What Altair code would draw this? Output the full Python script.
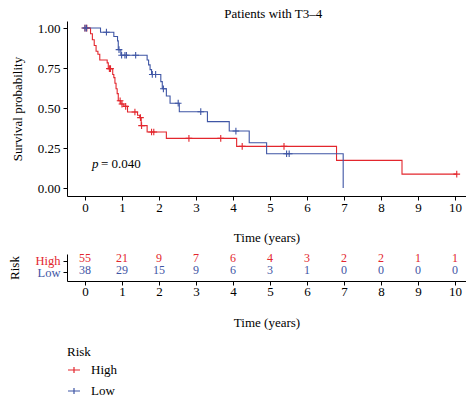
import altair as alt
import pandas as pd

SERIF = "Liberation Serif"

title_text = "Patients with T3\u20134"
groups = ["High", "Low"]
group_rows = [2, 1]
colors = ["#E3262D", "#3F56A5"]

# Kaplan-Meier step points (time in years, survival probability)
high_time = [0, 0.15, 0.20, 0.25, 0.30, 0.35, 0.40, 0.60, 0.63, 0.75, 0.78, 0.81,
             0.84, 0.87, 0.90, 0.97, 1.05, 1.15, 1.42, 1.48, 1.52, 1.68, 2.20,
             4.10, 6.80, 8.57, 10.05]
high_surv = [1.0, 0.964, 0.927, 0.891, 0.855, 0.836, 0.80, 0.782, 0.746, 0.71,
             0.69, 0.655, 0.62, 0.59, 0.545, 0.525, 0.51, 0.475, 0.455, 0.44,
             0.39, 0.35, 0.31, 0.26, 0.173, 0.087, 0.087]
low_time = [0, 0.42, 0.78, 0.88, 0.90, 0.97, 1.68, 1.72, 1.76, 1.80, 2.05, 2.09,
            2.20, 2.30, 2.55, 3.31, 3.90, 4.44, 4.91, 6.98]
low_surv = [1.0, 0.974, 0.947, 0.92, 0.865, 0.83, 0.80, 0.77, 0.74, 0.71, 0.665,
            0.62, 0.575, 0.53, 0.477, 0.415, 0.356, 0.283, 0.214, 0.0]

# censoring times
high_censor = [0.0, 0.05, 0.66, 0.69, 0.95, 1.0, 1.1, 1.35, 1.5, 1.53, 1.8, 1.86,
               2.81, 3.67, 4.25, 5.38, 10.05]
low_censor = [0.0, 0.04, 0.58, 0.92, 0.99, 1.08, 1.12, 1.37, 1.82, 1.91, 2.12,
              2.52, 3.13, 4.08, 5.45, 5.52]

# number at risk
risk_times = list(range(11))
high_risk = [55, 21, 9, 7, 6, 4, 3, 2, 2, 1, 1]
low_risk = [38, 29, 15, 9, 6, 3, 1, 0, 0, 0, 0]

p_time = [0.19]
p_surv = [0.15]
p_symbol = "p"
p_value = "= 0.040"

x_domain = [-0.486, 10.3]
y_domain = [-0.05, 1.044]
row_domain = [0.182, 2.636]


def surv_at(times, survs, t):
    s = survs[0]
    for ti, si in zip(times, survs):
        if ti <= t:
            s = si
    return s


curve_rows = []
for g, ts, ss in [("High", high_time, high_surv), ("Low", low_time, low_surv)]:
    for i, (t, s) in enumerate(zip(ts, ss)):
        curve_rows.append({"Risk": g, "time": t, "surv": s, "idx": i})
curve_df = pd.DataFrame(curve_rows)

cens_rows = []
for g, cs, ts, ss in [("High", high_censor, high_time, high_surv),
                      ("Low", low_censor, low_time, low_surv)]:
    for t in cs:
        cens_rows.append({"Risk": g, "time": t, "surv": surv_at(ts, ss, t)})
cens_df = pd.DataFrame(cens_rows)

risk_rows = []
for g, r, ns in [("High", group_rows[0], high_risk), ("Low", group_rows[1], low_risk)]:
    for t, n in zip(risk_times, ns):
        risk_rows.append({"Risk": g, "row": r, "time": t, "n": n})
risk_df = pd.DataFrame(risk_rows)

p_df = pd.DataFrame({"time": p_time, "surv": p_surv, "sym": [p_symbol], "val": [p_value]})

legend = alt.Legend(
    orient="none", legendX=0, legendY=325, direction="vertical",
    title="Risk", titleFont=SERIF, titleFontSize=13, titleFontWeight="normal",
    titleColor="black", titlePadding=4,
    labelFont=SERIF, labelFontSize=13, labelColor="black", labelOffset=10,
    symbolType="M-1,0L1,0M0,-0.5L0,0.5", symbolSize=144, symbolStrokeWidth=1.2,
    rowPadding=7, padding=0,
)
color = alt.Color("Risk:N", scale=alt.Scale(domain=groups, range=colors), legend=legend)

x_main = alt.X("time:Q", scale=alt.Scale(domain=x_domain, nice=False, zero=False),
               axis=alt.Axis(values=risk_times, title="Time (years)", labelPadding=1,
                             titleY=41, titleBaseline="middle", titleFontWeight="normal"))
y_main = alt.Y("surv:Q", scale=alt.Scale(domain=y_domain, nice=False, zero=False),
               axis=alt.Axis(values=[0, 0.25, 0.5, 0.75, 1.0], format=".2f",
                             title="Survival probability", labelPadding=3,
                             titleX=-50, titleBaseline="middle", titleFontWeight="normal"))

lines = alt.Chart(curve_df).mark_line(interpolate="step-after", strokeWidth=1.1).encode(
    x=x_main, y=y_main, color=color, order="idx:Q")
cens = alt.Chart(cens_df).mark_point(
    shape="M-1,0L1,0M0,-1L0,1", filled=False, size=45, strokeWidth=1.1, opacity=1
).encode(x=x_main, y=y_main, color=color)
p1 = alt.Chart(p_df).mark_text(font=SERIF, fontSize=13, fontStyle="italic", align="left",
                               baseline="middle", color="black").encode(
    x=x_main, y=y_main, text="sym:N")
p2 = alt.Chart(p_df).mark_text(font=SERIF, fontSize=13, align="left", dx=9,
                               baseline="middle", color="black").encode(
    x=x_main, y=y_main, text="val:N")

main = alt.layer(lines, cens, p1, p2).properties(width=399, height=175)

label_expr = "datum.value == %d ? '%s' : '%s'" % (group_rows[0], groups[0], groups[1])
label_color = "datum.value == %d ? '%s' : '%s'" % (group_rows[0], colors[0], colors[1])

x_risk = alt.X("time:Q", scale=alt.Scale(domain=x_domain, nice=False, zero=False),
               axis=alt.Axis(values=risk_times, title="Time (years)", labelPadding=0,
                             titleY=41, titleBaseline="middle", titleFontWeight="normal"))
y_risk = alt.Y("row:Q", scale=alt.Scale(domain=row_domain, nice=False, zero=False),
               axis=alt.Axis(title="Risk", values=group_rows, labelExpr=label_expr,
                             labelPadding=3, titleX=-52.5, labelFontSize=12.5,
                             titleBaseline="middle", titleFontWeight="normal",
                             labelColor={"expr": label_color}))
risk_layers = []
for g, c in zip(groups, colors):
    risk_layers.append(
        alt.Chart(risk_df).transform_filter(alt.datum.Risk == g).mark_text(
            font=SERIF, fontSize=12, color=c, baseline="middle", align="center", dy=-2.5
        ).encode(x=x_risk, y=y_risk, text="n:Q")
    )
risk = alt.layer(*risk_layers).properties(width=399, height=27)

chart = alt.vconcat(main, risk, spacing=58, bounds="flush").properties(
    title=alt.TitleParams(text=title_text, font=SERIF, fontSize=13, fontWeight="normal",
                          color="black", anchor="middle", offset=0, dx=36),
    padding=0,
).configure_view(stroke=None).configure_axis(
    grid=False, domainColor="black", tickColor="black", labelColor="black",
    labelFont=SERIF, labelFontSize=13, titleFont=SERIF, titleFontSize=13,
    titleFontWeight="normal", titleColor="black", tickSize=4, domainWidth=1, tickWidth=1,
)

chart.save("out.html", embed_options={"renderer": "svg", "actions": False})
